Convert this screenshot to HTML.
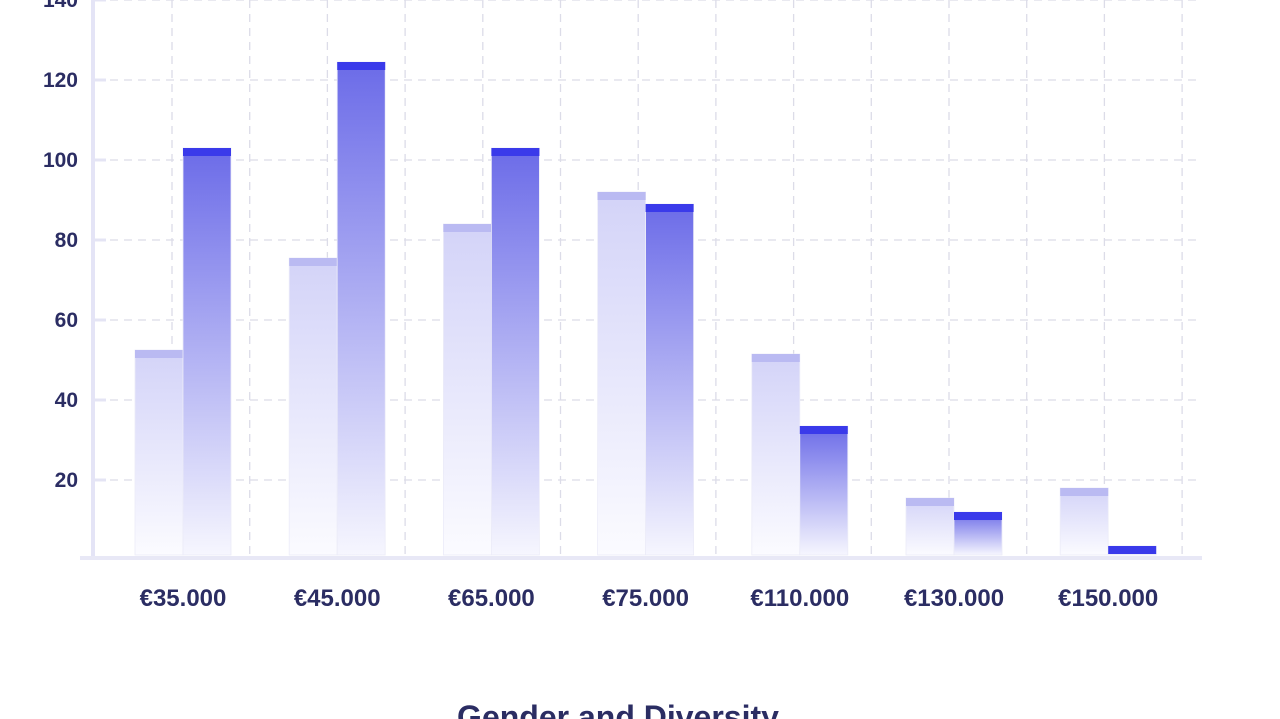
<!DOCTYPE html>
<html><head><meta charset="utf-8"><style>
body{margin:0;background:#fff;width:1280px;height:719px;overflow:hidden;font-family:"Liberation Sans",sans-serif}
svg{display:block}
</style></head><body>
<svg width="1280" height="719" id="chart">
<defs>
<linearGradient id="gl" x1="0" y1="0" x2="0" y2="1"><stop offset="0" stop-color="#d3d3f8"/><stop offset="1" stop-color="#fbfbff"/></linearGradient>
<linearGradient id="gd" x1="0" y1="0" x2="0" y2="1"><stop offset="0" stop-color="#6b6be8"/><stop offset="1" stop-color="#f6f6fe"/></linearGradient>
</defs>
<g id="grid"></g><g id="bars"></g><g id="labels"></g>
<text x="618" y="728" text-anchor="middle" font-size="32" font-weight="bold" fill="#2b2d63">Gender and Diversity</text>
</svg>
<script>
const categories=["€35.000","€45.000","€65.000","€75.000","€110.000","€130.000","€150.000"];
const seriesA=[52.5,75.5,84,92,51.5,15.5,18];
const seriesB=[103,124.5,103,89,33.5,12,3.5];
const yTicks=[20,40,60,80,100,120,140];
const NS="http://www.w3.org/2000/svg";
function y(v){return 560-v*4;}
function xc(i){return 183+i*154.2;}
const bw=48;
function mk(t,a,p){const e=document.createElementNS(NS,t);for(const k in a)e.setAttribute(k,a[k]);p.appendChild(e);return e;}
const grid=document.getElementById('grid'),bars=document.getElementById('bars'),labels=document.getElementById('labels');
for(let gx=172;gx<1200;gx+=77.7){const l=mk('line',{x1:gx,x2:gx,y1:0,y2:555,stroke:'#dcdce8','stroke-width':1.3,'stroke-dasharray':'8 6'},grid);

}
yTicks.forEach(t=>{const l=mk('line',{x1:96,x2:1200,y1:y(t),y2:y(t),stroke:'#dcdce8','stroke-width':1.3,'stroke-dasharray':'8 6'},grid);


const tk=mk('line',{x1:92,x2:106,y1:y(t),y2:y(t),stroke:'#e4e4f4','stroke-width':3},grid);


const tx=mk('text',{x:78,y:y(t)+7,'text-anchor':'end','font-size':21,'font-weight':'bold',fill:'#2b2d63'},labels);
tx.textContent=t;

});
const ya=mk('line',{x1:93,x2:93,y1:0,y2:558,stroke:'#e4e4f6','stroke-width':4},grid);


const xa=mk('line',{x1:80,x2:1202,y1:558,y2:558,stroke:'#e8e8f6','stroke-width':4},grid);


categories.forEach((c,i)=>{
 const cx=xc(i);
 [[seriesA[i],cx-bw,'url(#gl)','#babaf2','bar-series-a'],[seriesB[i],cx,'url(#gd)','#3a3aea','bar-series-b']].forEach(([v,x,f,cap,nm])=>{
  const top=y(v);
  const r=mk('rect',{x:x,y:top,width:bw,height:555-top,fill:f,stroke:'#ececf8','stroke-width':0.8},bars);
  
  
  const cp=mk('rect',{x:x,y:top,width:bw,height:Math.min(8,555-top),fill:cap},bars);
  
  
 });
 const t=mk('text',{x:cx,y:606,'text-anchor':'middle','font-size':24,'font-weight':'bold',fill:'#2b2d63'},labels);
 t.textContent=c;
 
 
});
</script>
</body></html>
